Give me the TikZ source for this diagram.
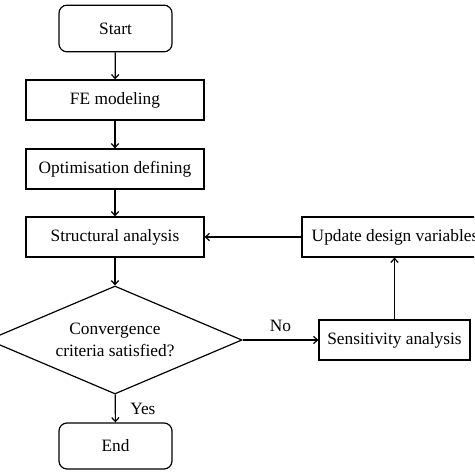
\documentclass[tikz,border=0pt]{standalone}
\usepackage{fontspec}
\setmainfont{Liberation Serif}
\usetikzlibrary{shapes.geometric,arrows.meta}

\tikzset{every picture/.style={line width=0.9pt}}
\tikzset{
  termbox/.style={draw, rounded corners=6pt, minimum width=84.75pt, minimum height=35pt, inner sep=0.75pt},
  procbox/.style={draw, minimum width=133.5pt, minimum height=30pt, inner sep=0.75pt},
  decbox/.style={draw, diamond, shape aspect=2.35, minimum width=190.5pt, minimum height=81pt, inner sep=0pt, align=center},
  flow/.style={-{Straight Barb[length=3pt,width=5.5pt]}}
}

\begin{document}
\begin{tikzpicture}[x=0.75pt,y=0.75pt,yscale=-1,xscale=1,font=\fontsize{13}{16}\selectfont]
        \useasboundingbox (0,0) rectangle (474,474);
        \clip (0,0) rectangle (474,474);

        % Terminal: Start
        \node (start) at (115.5,28.5) [termbox] {Start};
        % Process boxes
        \node (femod) at (115,100) [procbox] {FE modeling};
        \node (optdef) at (115,169) [procbox] {Optimisation defining};
        \node (struct) at (115,237) [procbox] {Structural analysis};
        \node (update) at (395,237) [procbox, minimum width=139.5pt] {Update design variables};
        % Decision
        \node (conv) at (115,340) [decbox] {Convergence\\criteria satisfied?};
        \node (sens) at (394.5,340) [procbox, minimum width=113.25pt] {Sensitivity analysis};
        % Terminal: End
        \node (end) at (115.5,446) [termbox, minimum height=34.5pt] {End};

        %Straight Lines
        \draw [flow] (start) -- (femod);
        \draw [flow] (femod) -- (optdef);
        \draw [flow] (optdef) -- (struct);
        \draw [flow] (struct) -- (conv);
        \draw [flow] (conv) -- node [anchor=west, inner sep=0.75pt, xshift=10pt] {Yes} (end);
        \draw [flow] (conv) -- node [anchor=south, inner sep=0.75pt, yshift=5pt] {No} (sens);
        \draw [flow] (sens.north) -- (sens.north |- update.south);
        \draw [flow] (update) -- (struct);

    \end{tikzpicture}
\end{document}
